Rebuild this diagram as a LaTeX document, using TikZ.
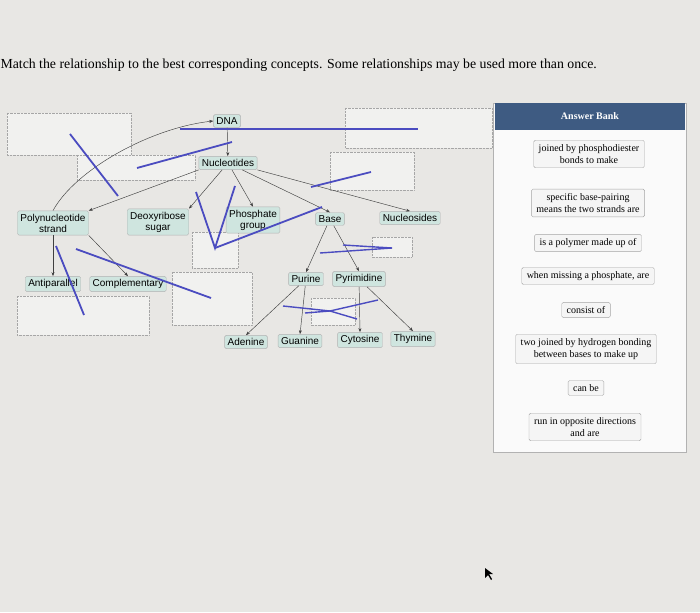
\documentclass[tikz,border=0pt]{standalone}
\usepackage{fontspec}
\setmainfont{Liberation Serif}
\newfontfamily\sans{Liberation Sans}
\usetikzlibrary{arrows.meta}
\definecolor{bg}{HTML}{E8E7E4}
\definecolor{cn}{HTML}{CFE5DF}
\definecolor{pen}{HTML}{4B4CC0}
\definecolor{hdr}{HTML}{3E5B82}
\tikzset{
 concept/.style={draw=gray!60,fill=cn,rounded corners=1.5pt,font=\sans\fontsize{10}{11}\selectfont,align=center,inner xsep=3pt,inner ysep=3pt},
 slot/.style={draw=gray!70,densely dotted,fill=bg!60!white},
 arr/.style={-{Stealth[length=4pt,width=3pt]},draw=gray!50!black,line width=0.45pt},
 ink/.style={draw=pen,line width=1.8pt},
 bank/.style={draw=gray!70,fill=gray!8,rounded corners=1.5pt,font=\fontsize{10}{12.5}\selectfont,align=center,inner xsep=5pt,inner ysep=4pt}
}
\begin{document}
\begin{tikzpicture}[x=1pt,y=-1pt]
\useasboundingbox (0,0) rectangle (700,612);
\fill[bg] (0,0) rectangle (700,612);
\node[anchor=west,font=\fontsize{13.8}{16}\selectfont] (title) at (-3,65) {Match the relationship to the best corresponding concepts. Some relationships may be used more than once.};
% slots
\draw[slot] (7,113) rectangle (131,155);
\draw[slot] (77,155) rectangle (195,180);
\draw[slot] (345,108) rectangle (492,148);
\draw[slot] (330,152) rectangle (414,190);
\draw[slot] (192,232) rectangle (238,268);
\draw[slot] (372,237) rectangle (412,257);
\draw[slot] (17,296) rectangle (149,335);
\draw[slot] (172,272) rectangle (252,325);
\draw[slot] (311,298) rectangle (355,325);
% concepts
\node[concept] (dna) at (227,121) {DNA};
\node[concept] (nuc) at (228,163) {Nucleotides};
\node[concept] (poly) at (53,223) {Polynucleotide\\strand};
\node[concept] (deo) at (158,222) {Deoxyribose\\sugar};
\node[concept] (pho) at (253,220) {Phosphate\\group};
\node[concept] (base) at (330,219) {Base};
\node[concept] (nucs) at (410,218) {Nucleosides};
\node[concept] (anti) at (53,284) {Antiparallel};
\node[concept] (comp) at (128,284) {Complementary};
\node[concept] (pur) at (306,279) {Purine};
\node[concept] (pyr) at (359,279) {Pyrimidine};
\node[concept] (ade) at (246,342) {Adenine};
\node[concept] (gua) at (300,341) {Guanine};
\node[concept] (cyt) at (360,340) {Cytosine};
\node[concept] (thy) at (413,339) {Thymine};
% arrows
\draw[arr] (dna) -- (nuc);
\draw[arr] (nuc.south west) -- (poly.north east);
\draw[arr] (nuc) -- (deo.north east);
\draw[arr] (nuc) -- (pho.north);
\draw[arr] (nuc) -- (base.north);
\draw[arr] (nuc.south east) -- (nucs.north);
\draw[arr] (poly.north) .. controls (75,170) and (150,128) .. (dna.west);
\draw[arr] (poly.south) -- (anti.north);
\draw[arr] (poly.south east) -- (comp.north);
\draw[arr] (base) -- (pur.north);
\draw[arr] (base) -- (pyr.north);
\draw[arr] (pur) -- (ade.north);
\draw[arr] (pur) -- (gua.north);
\draw[arr] (pyr) -- (cyt.north);
\draw[arr] (pyr) -- (thy.north);
% bank
\fill[gray!4] (493,103) rectangle (686,452);
\draw[gray!60] (493,103) rectangle (686,452);
\fill[hdr] (495,103) rectangle (685,130);
\node[font=\bfseries\fontsize{10}{12}\selectfont,text=white] (ab) at (590,116) {Answer Bank};
\node[bank] (b1) at (589,154) {joined by phosphodiester\\bonds to make};
\node[bank] (b2) at (588,203) {specific base-pairing\\means the two strands are};
\node[bank] (b3) at (588,243) {is a polymer made up of};
\node[bank] (b4) at (588,276) {when missing a phosphate, are};
\node[bank] (b5) at (586,310) {consist of};
\node[bank] (b6) at (586,349) {two joined by hydrogen bonding\\between bases to make up};
\node[bank] (b7) at (586,388) {can be};
\node[bank] (b8) at (585,427) {run in opposite directions\\and are};
% cursor
\fill[black] (485,568) -- (485,578) -- (488,575) -- (491,580) -- (492,579) -- (489,574) -- (493,574) -- cycle;
% ink marks
\draw[ink] (180,129) -- (418,129);
\draw[ink] (137,168) -- (232,142);
\draw[ink] (70,134) -- (118,196);
\draw[ink] (196,192) -- (215,248) -- (235,186);
\draw[ink] (215,248) -- (322,207);
\draw[ink] (311,187) -- (371,172);
\draw[ink] (56,246) -- (84,315);
\draw[ink] (76,249) -- (211,298);
\draw[ink,line width=1.4pt] (320,253) -- (392,248);
\draw[ink,line width=1.4pt] (343,245) -- (392,248);
\draw[ink,line width=1.4pt] (283,306) -- (330,311) -- (378,300);
\draw[ink,line width=1.4pt] (305,313) -- (330,311) -- (357,319);
\end{tikzpicture}
\end{document}
